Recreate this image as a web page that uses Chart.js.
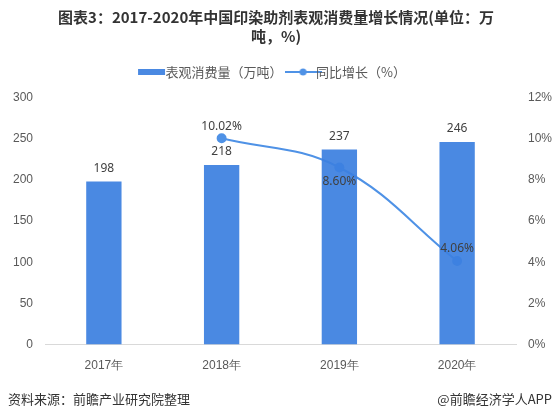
<!DOCTYPE html>
<html>
<head>
<meta charset="utf-8">
<script src="https://cdn.jsdelivr.net/npm/chart.js@4/dist/chart.umd.min.js"></script>
<style>
  body { margin: 0; background: #fff; font-family: "Noto Sans CJK SC", "Noto Sans", sans-serif; }
  #wrap { position: relative; width: 552px; height: 420px; }
  .foot { position: absolute; top: 389px; font-size: 13px; color: #333; }
</style>
</head>
<body>
<div id="wrap">
  <canvas id="chart" width="552" height="420"></canvas>
  <div class="foot" style="left:8px;">资料来源：前瞻产业研究院整理</div>
  <div class="foot" style="right:0;">@前瞻经济学人APP</div>
</div>
<script>
const years = ['2017年', '2018年', '2019年', '2020年'];
const consumption = [198, 218, 237, 246];
const growth = [null, 10.02, 8.60, 4.06];
const growthLabelPos = [null, 'top', 'bottom', 'top'];

const barColor = 'rgba(60,128,224,0.93)';
const lineColor = '#4f92e6';

// legend icons
function legendIcon(type) {
  const c = document.createElement('canvas');
  c.width = 37; c.height = 8;
  const g = c.getContext('2d');
  if (type === 'bar') {
    g.fillStyle = barColor;
    g.fillRect(4, 1, 27, 6);
  } else {
    g.strokeStyle = lineColor;
    g.lineWidth = 2;
    g.beginPath(); g.moveTo(0, 4); g.lineTo(37, 4); g.stroke();
    g.fillStyle = lineColor;
    g.beginPath(); g.arc(18.5, 4, 3.5, 0, Math.PI * 2); g.fill();
  }
  return c;
}

// extra room under the legend
const legendGap = {
  id: 'legendGap',
  beforeInit(chart) {
    const fit = chart.legend.fit;
    chart.legend.fit = function () {
      fit.bind(chart.legend)();
      this.height += 9;
    };
  }
};

const valueLabels = {
  id: 'valueLabels',
  afterDatasetsDraw(chart) {
    const ctx = chart.ctx;
    ctx.save();
    ctx.font = '12px "Noto Sans", "DejaVu Sans", sans-serif';
    ctx.fillStyle = '#404040';
    ctx.textAlign = 'center';
    ctx.textBaseline = 'middle';
    chart.getDatasetMeta(0).data.forEach((el, i) => {
      ctx.fillText(consumption[i], el.x, el.y - 13);
    });
    chart.getDatasetMeta(1).data.forEach((el, i) => {
      if (growth[i] == null) return;
      const dy = growthLabelPos[i] === 'top' ? -12 : 14;
      ctx.fillText(growth[i].toFixed(2) + '%', el.x, el.y + dy);
    });
    ctx.restore();
  }
};

new Chart(document.getElementById('chart'), {
  data: {
    labels: years,
    datasets: [{
      type: 'bar',
      label: '表观消费量（万吨）',
      data: consumption,
      backgroundColor: barColor,
      barPercentage: 0.6,
      categoryPercentage: 0.5,
      yAxisID: 'y',
      order: 1
    }, {
      type: 'line',
      label: '同比增长（%）',
      data: growth,
      borderColor: lineColor,
      backgroundColor: lineColor,
      borderWidth: 2,
      pointRadius: 4,
      pointBackgroundColor: lineColor,
      tension: 0.4,
      yAxisID: 'y1',
      order: 2
    }]
  },
  options: {
    responsive: false,
    animation: false,
    layout: { padding: { top: 0, bottom: 41, left: 0, right: 0 } },
    plugins: {
      title: {
        display: true,
        text: ['图表3：2017-2020年中国印染助剂表观消费量增长情况(单位：万', '吨，%)'],
        color: '#333',
        font: { size: 15, weight: 'bold', family: '"Noto Sans CJK SC", sans-serif', lineHeight: 1.25 },
        padding: { top: 8, bottom: 6 }
      },
      legend: {
        labels: {
          usePointStyle: true,
          color: '#595959',
          font: { size: 13, family: '"Noto Sans CJK SC", sans-serif' },
          padding: 14,
          generateLabels(chart) {
            return chart.data.datasets.map((ds, i) => ({
              text: ds.label,
              pointStyle: legendIcon(ds.type),
              fontColor: '#595959',
              datasetIndex: i,
              lineWidth: 0
            }));
          }
        }
      },
      tooltip: { enabled: false }
    },
    scales: {
      x: {
        grid: { display: false },
        border: { display: true, color: '#d9d9d9' },
        ticks: { color: '#595959', font: { size: 12 }, padding: 6 }
      },
      y: {
        position: 'left',
        min: 0, max: 300,
        ticks: { stepSize: 50, color: '#595959', font: { size: 12 }, padding: 12 },
        grid: { display: false, drawTicks: false },
        border: { display: false },
        afterFit(s) { s.width = 45; }
      },
      y1: {
        position: 'right',
        min: 0, max: 12,
        ticks: { stepSize: 2, color: '#595959', font: { size: 12 }, padding: 12,
                 callback: v => v + '%' },
        grid: { display: false, drawTicks: false },
        border: { display: false },
        afterFit(s) { s.width = 36; }
      }
    }
  },
  plugins: [valueLabels, legendGap]
});
</script>
</body>
</html>
